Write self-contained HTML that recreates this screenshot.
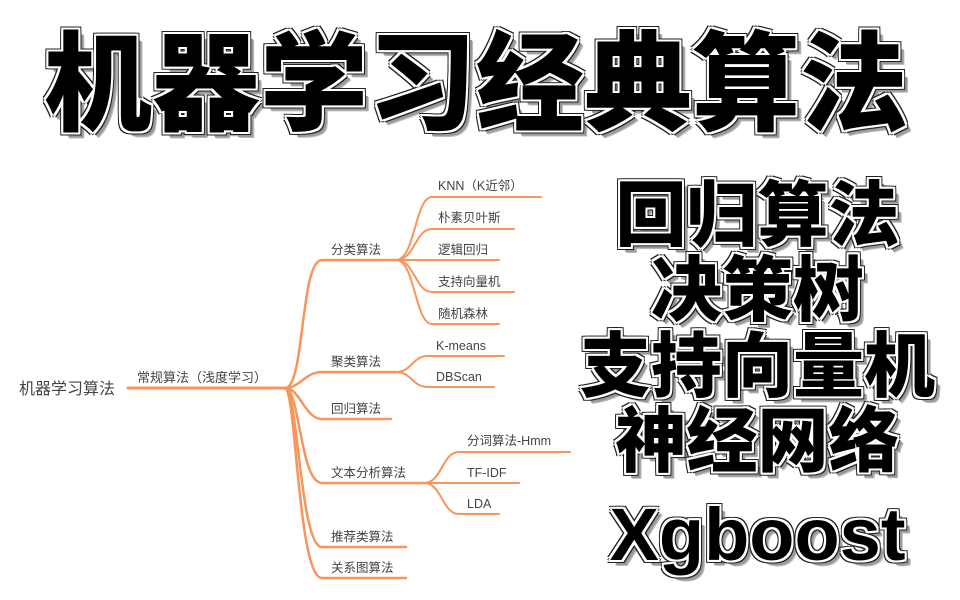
<!DOCTYPE html>
<html><head><meta charset="utf-8"><style>
html,body{margin:0;padding:0;background:#fff;}
body{width:960px;height:600px;position:relative;overflow:hidden;}
.big{position:absolute;font-family:"Liberation Sans","Noto Sans CJK SC",sans-serif;font-weight:900;color:#000;white-space:nowrap;
text-shadow:2px 0 #fff,-2px 0 #fff,0 2px #fff,0 -2px #fff,2px 2px #fff,-2px -2px #fff,2px -2px #fff,-2px 2px #fff,
3px 0 #222,-3px 0 #222,0 3px #222,0 -3px #222,3px 3px #222,-3px -3px #222,3px -3px #222,-3px 3px #222,
5px 5px #999,6px 6px #bbb;}
#title{left:44px;top:10px;font-size:108px;line-height:150px;letter-spacing:0px;}
.r{left:560px;width:395px;text-align:center;font-size:71px;line-height:76px;}
svg text{font-family:"Liberation Sans","Noto Sans CJK SC",sans-serif;fill:#444;}
</style></head><body>
<div id="title" class="big">机器学习经典算法</div>
<div class="big r" style="top:179px">回归算法</div>
<div class="big r" style="top:254px">决策树</div>
<div class="big r" style="top:330px">支持向量机</div>
<div class="big r" style="top:405px">神经网络</div>
<div class="big r" style="top:497px;font-family:'Liberation Sans',sans-serif;font-weight:bold;font-size:74px;">Xgboost</div>
<svg width="960" height="600" style="position:absolute;left:0;top:0" xmlns="http://www.w3.org/2000/svg">
<g fill="none" stroke="#f7955a" stroke-linecap="round">
<path d="M128 388 H285" stroke-width="3"/>
<g stroke-width="2.5">
<path d="M285 388 C305 388 300 260 322 260 H396"/>
<path d="M285 388 C300 388 305 372 322 372 H396"/>
<path d="M285 388 C300 388 305 419 322 419 H391"/>
<path d="M285 388 C300 388 300 483 322 483 H424"/>
<path d="M285 388 C298 388 300 547 322 547 H406"/>
<path d="M285 388 C296 388 298 578 322 578 H406"/>
</g>
<g stroke-width="2">
<path d="M396 260 C415 260 415 197 432 197 H541"/>
<path d="M396 260 C415 260 415 229 432 229 H514"/>
<path d="M396 260 H499"/>
<path d="M396 260 C415 260 415 292 432 292 H514"/>
<path d="M396 260 C415 260 415 324 432 324 H499"/>
<path d="M396 372 C412 372 412 356 428 356 H504"/>
<path d="M396 372 C412 372 412 387 428 387 H494"/>
<path d="M424 483 C442 483 442 452 459 452 H570"/>
<path d="M424 483 H519"/>
<path d="M424 483 C442 483 442 514 459 514 H499"/>
</g>
</g>
<text x="19" y="394" font-size="16">机器学习算法</text>
<text x="137" y="382" font-size="13">常规算法（浅度学习）</text>
<g font-size="12.5">
<text x="331" y="254">分类算法</text>
<text x="331" y="366">聚类算法</text>
<text x="331" y="413">回归算法</text>
<text x="331" y="477">文本分析算法</text>
<text x="331" y="541">推荐类算法</text>
<text x="331" y="572">关系图算法</text>
<text x="438" y="190">KNN（K近邻）</text>
<text x="438" y="222">朴素贝叶斯</text>
<text x="438" y="254">逻辑回归</text>
<text x="438" y="286">支持向量机</text>
<text x="438" y="318">随机森林</text>
<text x="436" y="350">K-means</text>
<text x="436" y="381">DBScan</text>
<text x="467" y="445">分词算法-Hmm</text>
<text x="467" y="477">TF-IDF</text>
<text x="467" y="508">LDA</text>
</g>
</svg>
</body></html>
